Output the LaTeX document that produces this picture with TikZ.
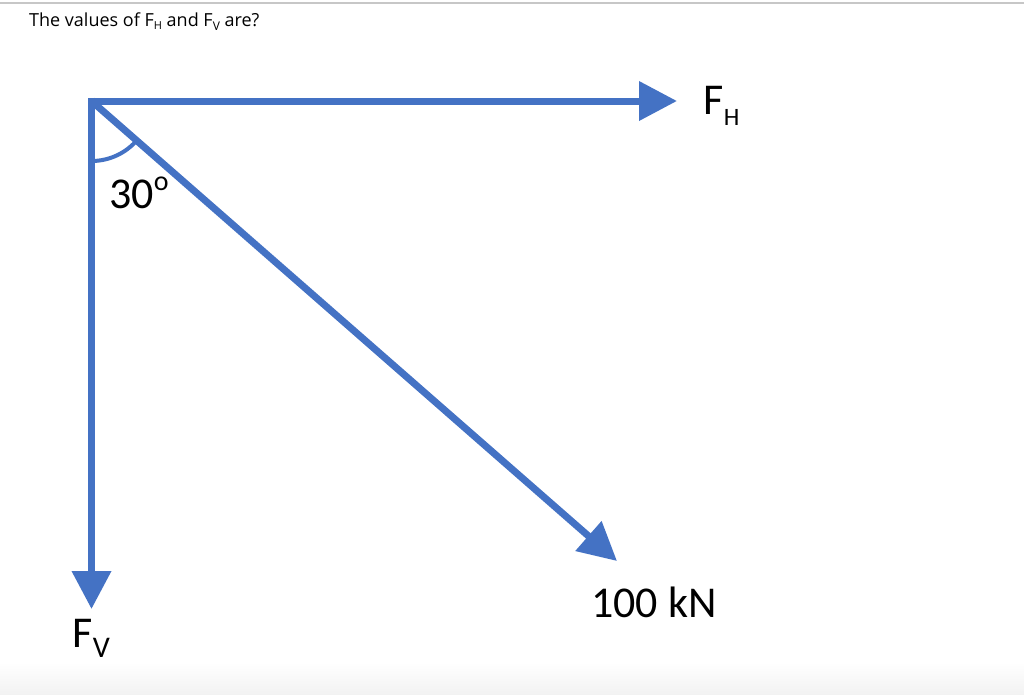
\documentclass[tikz,border=0pt]{standalone}
\usepackage{fontspec}
\newfontfamily\titlefont{Open Sans}
\newfontfamily\labfont{Carlito}
\usetikzlibrary{arrows.meta}
\definecolor{fblue}{HTML}{4472C4}
\begin{document}
\begin{tikzpicture}[x=1pt,y=-1pt,
  force/.style={draw=fblue, line width=7pt, -{Triangle[length=38pt,width=38pt]}},
  lab/.style={inner sep=0pt, anchor=base west, font=\labfont\fontsize{44}{44}\selectfont}]
\useasboundingbox (0,0) rectangle (1024,694);
\fill[white] (0,0) rectangle (1024,694);
\shade[top color=white, bottom color=black!5] (0,662) rectangle (1024,694);
\draw[black!22, line width=1.5pt] (0,3) -- (1024,3);
\node[anchor=base west, inner sep=0pt, font=\titlefont\fontsize{18}{18}\selectfont] (title) at (29,26)
  {The values of F\raisebox{-3pt}{\fontsize{11}{11}\selectfont H} and F\raisebox{-4pt}{\fontsize{12}{12}\selectfont V} are?};
\coordinate (O) at (91.5,101);
\coordinate (Htip) at (677,101);
\coordinate (Vtip) at (91.5,609);
\coordinate (Dtip) at (617,561);
\draw[force] ([xshift=-3.5pt]O) -- (Htip);
\draw[force] ([yshift=3.5pt]O) -- (Vtip);
\draw[force] (O) -- (Dtip);
\draw[fblue, line width=4pt] plot[domain=90:41.3, samples=30] ({91.5+60*cos(\x)},{101+60*sin(\x)});
\node[lab] (FH) at (703.5,114) {F\raisebox{-11pt}{\fontsize{25}{25}\selectfont H}};
\node[lab] (FV) at (72.5,647) {F\raisebox{-10pt}{\fontsize{30}{30}\selectfont V}};
\node[lab] (load) at (591,617) {100 kN};
\node[lab] (ang) at (109,208) {30\raisebox{18pt}{\fontsize{28}{28}\selectfont o}};
\end{tikzpicture}
\end{document}
